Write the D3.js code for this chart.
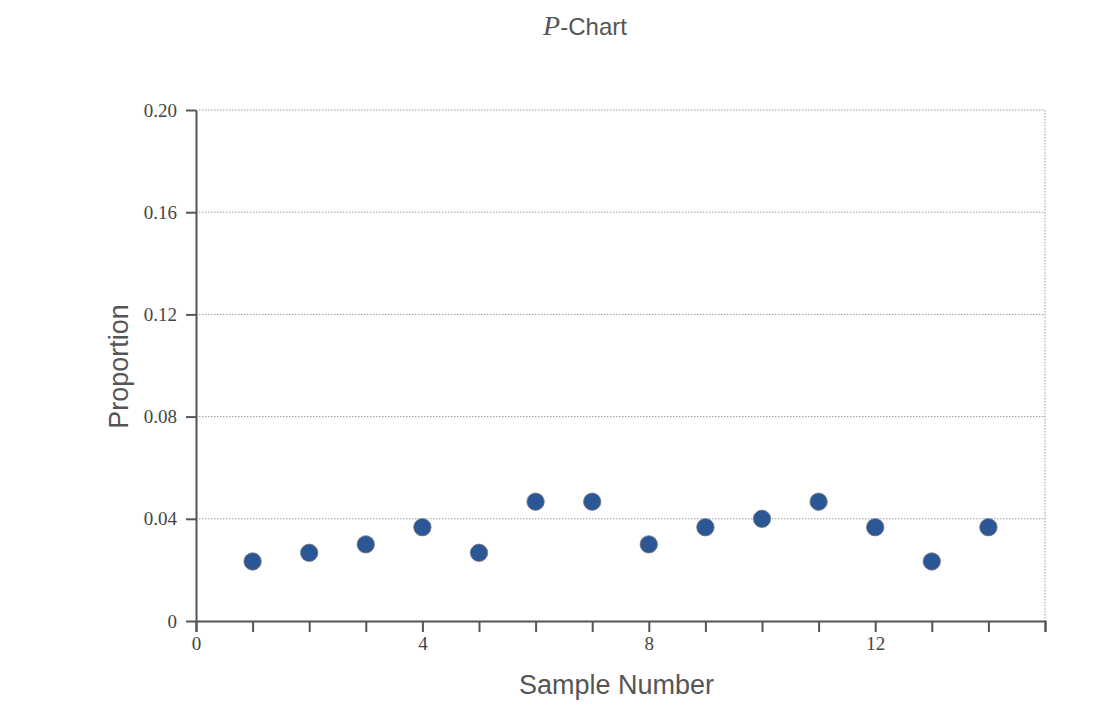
<!DOCTYPE html>
<html>
<head>
<meta charset="utf-8">
<script src="https://cdn.jsdelivr.net/npm/d3@7"></script>
<style>
  html, body { margin: 0; padding: 0; background: #fff; }
  svg { display: block; }
  .axis text { font-family: "Liberation Serif", "DejaVu Serif", serif; font-size: 19px; fill: #444; }
  .axis path, .axis line { stroke: #555; stroke-width: 2px; }
</style>
</head>
<body>
<svg></svg>
<script>
// data
const samples = [1, 2, 3, 4, 5, 6, 7, 8, 9, 10, 11, 12, 13, 14];
const proportions = [0.0233, 0.0267, 0.03, 0.0367, 0.0267, 0.0467, 0.0467, 0.03, 0.0367, 0.04, 0.0467, 0.0367, 0.0233, 0.0367];
const yTicks = [0, 0.04, 0.08, 0.12, 0.16, 0.2];
const xTickLabels = [0, 4, 8, 12];

const width = 1102;
const height = 724;
const margin = { left: 196, top: 110, right: 57, bottom: 103 };
const innerWidth = width - margin.left - margin.right;
const innerHeight = height - margin.top - margin.bottom;

const svg = d3.select('svg').attr('width', width).attr('height', height);

const g = svg.append('g').attr('transform', `translate(${margin.left}, ${margin.top})`);

const x = d3.scaleLinear().domain([0, 15]).range([0, innerWidth]);
const y = d3.scaleLinear().domain([0, 0.2]).range([innerHeight, 0]);

// grid lines
g.append('g')
  .selectAll('line')
  .data(yTicks.filter((d) => d > 0))
  .enter()
  .append('line')
  .attr('x1', 0)
  .attr('x2', innerWidth)
  .attr('y1', y)
  .attr('y2', y)
  .style('stroke', '#999')
  .style('stroke-width', 1)
  .style('stroke-dasharray', '1.5,1.5');

// right border
g.append('line')
  .attr('x1', innerWidth)
  .attr('x2', innerWidth)
  .attr('y1', 0)
  .attr('y2', innerHeight)
  .style('stroke', '#999')
  .style('stroke-width', 1)
  .style('stroke-dasharray', '1.5,1.5');

// axes
const xAxis = d3
  .axisBottom(x)
  .tickValues(d3.range(0, 16))
  .tickSize(11)
  .tickSizeOuter(11)
  .tickPadding(5)
  .tickFormat((d) => d);

const yAxis = d3
  .axisLeft(y)
  .tickValues(yTicks)
  .tickSize(10)
  .tickSizeOuter(0)
  .tickPadding(9)
  .tickFormat((d) => (d === 0 ? '0' : d3.format('.2f')(d)));

const xg = g.append('g')
  .attr('class', 'axis')
  .attr('transform', `translate(0, ${innerHeight})`)
  .call(xAxis);
const yg = g.append('g').attr('class', 'axis').call(yAxis);

// only every 4th sample gets a label
xg.selectAll('.tick')
  .filter((d) => !xTickLabels.includes(d))
  .select('text')
  .remove();

[xg, yg].forEach((ax) => {
  ax.attr('font-size', 19).attr('font-family', '"Liberation Serif", serif');
});

// points
g.append('g')
  .selectAll('circle')
  .data(samples)
  .enter()
  .append('circle')
  .attr('cx', (d) => x(d))
  .attr('cy', (d, i) => y(proportions[i]))
  .attr('r', 8.7)
  .style('fill', '#2b5797')
  .style('stroke', '#777')
  .style('stroke-width', 0.8);

// axis titles
svg.append('text')
  .attr('x', margin.left + innerWidth * 0.5 - 4)
  .attr('y', 694)
  .attr('text-anchor', 'middle')
  .style('font-family', '"Liberation Sans", Arial, sans-serif')
  .style('font-size', '27px')
  .style('fill', '#555')
  .text('Sample Number');

svg.append('text')
  .attr('transform', `translate(128, ${margin.top + innerHeight * 0.5 + 1}) rotate(-90)`)
  .attr('text-anchor', 'middle')
  .style('font-family', '"Liberation Sans", Arial, sans-serif')
  .style('font-size', '27px')
  .style('fill', '#555')
  .text('Proportion');

// title
const title = svg.append('text')
  .attr('x', 585)
  .attr('y', 35)
  .attr('text-anchor', 'middle')
  .style('font-size', '24px')
  .style('fill', '#555');
title.append('tspan')
  .style('font-family', '"Liberation Serif", "DejaVu Serif", serif')
  .style('font-style', 'italic')
  .style('font-size', '28px')
  .text('P');
title.append('tspan')
  .style('font-family', '"Liberation Sans", Arial, sans-serif')
  .text('-Chart');
</script>
</body>
</html>
